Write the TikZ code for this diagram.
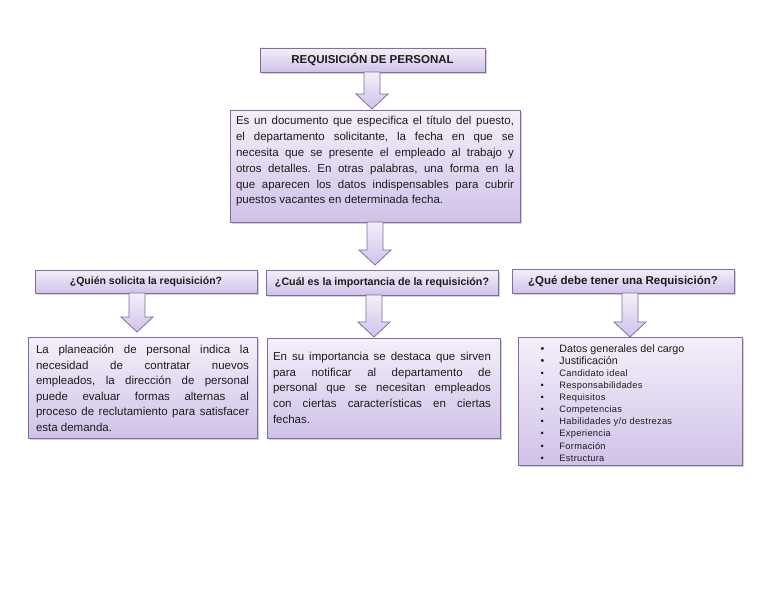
\documentclass[tikz,border=0pt]{standalone}
\usepackage{fontspec}
\setmainfont{Liberation Sans}
\usetikzlibrary{shadows,calc}
\definecolor{bdr}{RGB}{128,110,160}
\definecolor{ftop}{RGB}{244,239,250}
\definecolor{fbot}{RGB}{208,194,232}
\definecolor{txt}{RGB}{28,28,28}
\tikzset{
  box/.style={draw=bdr, line width=0.9pt, top color=ftop, bottom color=fbot,
    drop shadow={shadow xshift=1.5pt, shadow yshift=-1.8pt, opacity=0.35},
    inner sep=0pt, outer sep=0pt, text=txt, anchor=north west},
  hdr/.style={box, align=center},
  arr/.style={draw=bdr, line width=0.8pt, top color=ftop, bottom color=fbot, line join=miter}
}
\newcommand\downarr[4]{%
  \path[arr] let \p1=(#1.south), \p2=(#2.north), \p3=(#3,0) in
    (\x3-8pt,\y1) -- (\x3+8pt,\y1) -- (\x3+8pt,\y2+#4+15pt) -- (\x3+16pt,\y2+#4+15pt)
    -- (\x3,\y2+#4) -- (\x3-16pt,\y2+#4+15pt) -- (\x3-8pt,\y2+#4+15pt) -- cycle;}
\newcommand\itm[2]{{\fontsize{#1}{12.1}\selectfont\hspace*{22.5pt}\makebox[19pt][l]{\textbullet}#2\par}}
\frenchspacing
\begin{document}
\begin{tikzpicture}[x=1pt,y=-1pt]
\fill[white] (0,0) rectangle (768,594);
\useasboundingbox (0,0) rectangle (768,594);

\node[hdr, minimum width=225pt, minimum height=24pt, font=\bfseries\fontsize{11.5}{13}\selectfont] (title) at (260,48) {REQUISICIÓN DE PERSONAL};

\node[box, minimum width=290pt, minimum height=112pt] (main) at (230,110) {%
\begin{minipage}[c][112pt][t]{290pt}\fontsize{11.5}{15.8}\selectfont\frenchspacing
\leftskip=6pt \rightskip=6pt \parindent=0pt \tolerance=10000 \hyphenpenalty=10000
\vspace*{6.5pt}Es un documento que especifica el título del puesto,\linebreak
el departamento solicitante, la fecha en que se\linebreak
necesita que se presente el empleado al trabajo y\linebreak
otros detalles. En otras palabras, una forma en la\linebreak
que aparecen los datos indispensables para cubrir\linebreak
puestos vacantes en determinada fecha.\par
\end{minipage}};

\node[hdr, minimum width=222pt, minimum height=23pt, font=\bfseries\fontsize{10.5}{12}\selectfont] (h1) at (35,270) {¿Quién solicita la requisición?};
\node[hdr, minimum width=232pt, minimum height=25pt, font=\bfseries\fontsize{10.7}{12}\selectfont] (h2) at (266,270) {¿Cuál es la importancia de la requisición?};
\node[hdr, minimum width=222pt, minimum height=24pt, font=\bfseries\fontsize{11.5}{13}\selectfont] (h3) at (512,269) {¿Qué debe tener una Requisición?};

\node[box, minimum width=229pt, minimum height=101pt] (t1) at (28,337) {%
\begin{minipage}[c][101pt][t]{229pt}\fontsize{11.5}{15.6}\selectfont\frenchspacing
\leftskip=8pt \rightskip=8pt \parindent=0pt \tolerance=10000 \hyphenpenalty=10000
\vspace*{8pt}La planeación de personal indica la\linebreak
necesidad de contratar nuevos\linebreak
empleados, la dirección de personal\linebreak
puede evaluar formas alternas al\linebreak
proceso de reclutamiento para satisfacer\linebreak
esta demanda.\par
\end{minipage}};

\node[box, minimum width=233pt, minimum height=100pt] (t2) at (267,338) {%
\begin{minipage}[c][100pt][t]{233pt}\fontsize{11.5}{15.75}\selectfont\frenchspacing
\leftskip=6pt \rightskip=9pt \parindent=0pt \tolerance=10000 \hyphenpenalty=10000
\vspace*{14pt}En su importancia se destaca que sirven\linebreak
para notificar al departamento de\linebreak
personal que se necesitan empleados\linebreak
con ciertas características en ciertas\linebreak
fechas.\par
\end{minipage}};

\node[box, minimum width=224pt, minimum height=128pt] (t3) at (518,337) {%
\begin{minipage}[c][128pt][t]{224pt}\parindent=0pt
\vspace*{7.5pt}%
\itm{10.7}{Datos generales del cargo}
\itm{10.7}{Justificación}
\itm{9.3}{\addfontfeatures{LetterSpace=3}Candidato ideal}
\itm{9.3}{\addfontfeatures{LetterSpace=3}Responsabilidades}
\itm{9.3}{\addfontfeatures{LetterSpace=3}Requisitos}
\itm{9.3}{\addfontfeatures{LetterSpace=3}Competencias}
\itm{9.3}{\addfontfeatures{LetterSpace=3}Habilidades y/o destrezas}
\itm{9.3}{\addfontfeatures{LetterSpace=3}Experiencia}
\itm{9.3}{\addfontfeatures{LetterSpace=3}Formación}
\itm{9.3}{\addfontfeatures{LetterSpace=3}Estructura}
\end{minipage}};

\downarr{title}{main}{372}{1pt}
\downarr{main}{h2}{375}{5pt}
\downarr{h1}{t1}{137}{5pt}
\downarr{h2}{t2}{374}{1pt}
\downarr{h3}{t3}{630}{0pt}
\end{tikzpicture}
\end{document}
